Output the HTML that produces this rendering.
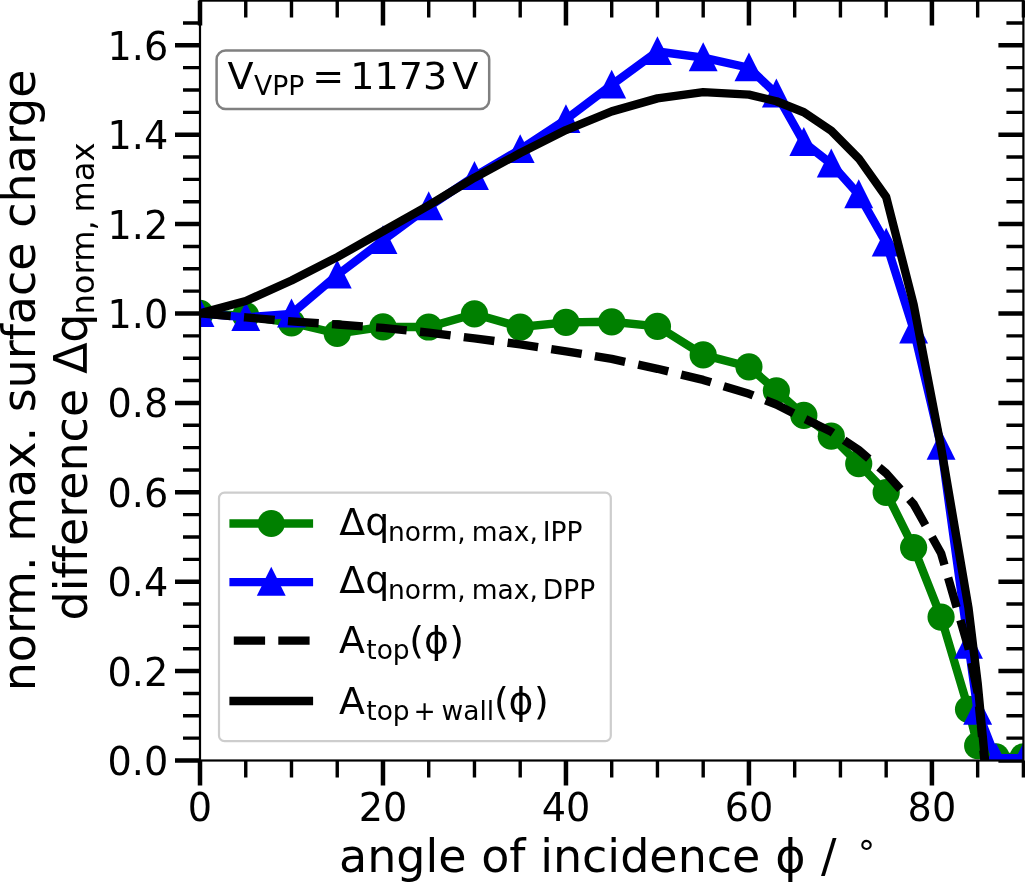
<!DOCTYPE html>
<html><head><meta charset="utf-8"><title>chart</title>
<style>html,body{margin:0;padding:0;background:#fff}svg{display:block}text{font-family:"DejaVu Sans","Liberation Sans",sans-serif;fill:#000;font-variant-ligatures:none}</style></head><body>
<svg width="1025" height="882" viewBox="0 0 1025 882">
<rect width="1025" height="882" fill="#fff"/>
<defs><clipPath id="ax"><rect x="200.00" y="0.60" width="823.41" height="759.90"/></clipPath></defs>
<g stroke="#000" fill="none"><path d="M200.00 760.50v25.00M200.00 0.60v25.00" stroke-width="4.50"/><path d="M245.75 760.50v17.00M245.75 0.60v17.00" stroke-width="3.40"/><path d="M291.49 760.50v17.00M291.49 0.60v17.00" stroke-width="3.40"/><path d="M337.24 760.50v17.00M337.24 0.60v17.00" stroke-width="3.40"/><path d="M382.98 760.50v25.00M382.98 0.60v25.00" stroke-width="4.50"/><path d="M428.72 760.50v17.00M428.72 0.60v17.00" stroke-width="3.40"/><path d="M474.47 760.50v17.00M474.47 0.60v17.00" stroke-width="3.40"/><path d="M520.21 760.50v17.00M520.21 0.60v17.00" stroke-width="3.40"/><path d="M565.96 760.50v25.00M565.96 0.60v25.00" stroke-width="4.50"/><path d="M611.70 760.50v17.00M611.70 0.60v17.00" stroke-width="3.40"/><path d="M657.45 760.50v17.00M657.45 0.60v17.00" stroke-width="3.40"/><path d="M703.19 760.50v17.00M703.19 0.60v17.00" stroke-width="3.40"/><path d="M748.94 760.50v25.00M748.94 0.60v25.00" stroke-width="4.50"/><path d="M794.68 760.50v17.00M794.68 0.60v17.00" stroke-width="3.40"/><path d="M840.43 760.50v17.00M840.43 0.60v17.00" stroke-width="3.40"/><path d="M886.17 760.50v17.00M886.17 0.60v17.00" stroke-width="3.40"/><path d="M931.92 760.50v25.00M931.92 0.60v25.00" stroke-width="4.50"/><path d="M977.66 760.50v17.00M977.66 0.60v17.00" stroke-width="3.40"/><path d="M1023.41 760.50v17.00M1023.41 0.60v17.00" stroke-width="3.40"/><path d="M200.00 760.50h-25.00M1023.41 760.50h-25.00" stroke-width="4.50"/><path d="M200.00 738.15h-17.00M1023.41 738.15h-17.00" stroke-width="3.40"/><path d="M200.00 715.80h-17.00M1023.41 715.80h-17.00" stroke-width="3.40"/><path d="M200.00 693.45h-17.00M1023.41 693.45h-17.00" stroke-width="3.40"/><path d="M200.00 671.10h-25.00M1023.41 671.10h-25.00" stroke-width="4.50"/><path d="M200.00 648.75h-17.00M1023.41 648.75h-17.00" stroke-width="3.40"/><path d="M200.00 626.40h-17.00M1023.41 626.40h-17.00" stroke-width="3.40"/><path d="M200.00 604.05h-17.00M1023.41 604.05h-17.00" stroke-width="3.40"/><path d="M200.00 581.70h-25.00M1023.41 581.70h-25.00" stroke-width="4.50"/><path d="M200.00 559.35h-17.00M1023.41 559.35h-17.00" stroke-width="3.40"/><path d="M200.00 537.00h-17.00M1023.41 537.00h-17.00" stroke-width="3.40"/><path d="M200.00 514.65h-17.00M1023.41 514.65h-17.00" stroke-width="3.40"/><path d="M200.00 492.30h-25.00M1023.41 492.30h-25.00" stroke-width="4.50"/><path d="M200.00 469.95h-17.00M1023.41 469.95h-17.00" stroke-width="3.40"/><path d="M200.00 447.60h-17.00M1023.41 447.60h-17.00" stroke-width="3.40"/><path d="M200.00 425.25h-17.00M1023.41 425.25h-17.00" stroke-width="3.40"/><path d="M200.00 402.90h-25.00M1023.41 402.90h-25.00" stroke-width="4.50"/><path d="M200.00 380.55h-17.00M1023.41 380.55h-17.00" stroke-width="3.40"/><path d="M200.00 358.20h-17.00M1023.41 358.20h-17.00" stroke-width="3.40"/><path d="M200.00 335.85h-17.00M1023.41 335.85h-17.00" stroke-width="3.40"/><path d="M200.00 313.50h-25.00M1023.41 313.50h-25.00" stroke-width="4.50"/><path d="M200.00 291.15h-17.00M1023.41 291.15h-17.00" stroke-width="3.40"/><path d="M200.00 268.80h-17.00M1023.41 268.80h-17.00" stroke-width="3.40"/><path d="M200.00 246.45h-17.00M1023.41 246.45h-17.00" stroke-width="3.40"/><path d="M200.00 224.10h-25.00M1023.41 224.10h-25.00" stroke-width="4.50"/><path d="M200.00 201.75h-17.00M1023.41 201.75h-17.00" stroke-width="3.40"/><path d="M200.00 179.40h-17.00M1023.41 179.40h-17.00" stroke-width="3.40"/><path d="M200.00 157.05h-17.00M1023.41 157.05h-17.00" stroke-width="3.40"/><path d="M200.00 134.70h-25.00M1023.41 134.70h-25.00" stroke-width="4.50"/><path d="M200.00 112.35h-17.00M1023.41 112.35h-17.00" stroke-width="3.40"/><path d="M200.00 90.00h-17.00M1023.41 90.00h-17.00" stroke-width="3.40"/><path d="M200.00 67.65h-17.00M1023.41 67.65h-17.00" stroke-width="3.40"/><path d="M200.00 45.30h-25.00M1023.41 45.30h-25.00" stroke-width="4.50"/><path d="M200.00 22.95h-17.00M1023.41 22.95h-17.00" stroke-width="3.40"/></g>
<g clip-path="url(#ax)">
<polyline points="200.00,313.40 245.75,315.63 291.49,322.78 337.24,333.50 382.98,326.93 428.72,327.02 474.47,313.94 520.21,327.02 565.96,322.33 611.70,321.80 657.45,326.31 703.19,354.89 748.94,366.81 776.39,390.75 803.83,415.40 831.28,436.21 858.73,463.68 886.17,492.49 913.62,547.55 941.07,617.09 968.52,709.31 977.66,745.71 995.96,756.87 1023.41,756.87" fill="none" stroke="#008000" stroke-width="8.40" stroke-linejoin="round"/>
<g fill="#008000"><circle cx="200.00" cy="313.40" r="13.60"/><circle cx="245.75" cy="315.63" r="13.60"/><circle cx="291.49" cy="322.78" r="13.60"/><circle cx="337.24" cy="333.50" r="13.60"/><circle cx="382.98" cy="326.93" r="13.60"/><circle cx="428.72" cy="327.02" r="13.60"/><circle cx="474.47" cy="313.94" r="13.60"/><circle cx="520.21" cy="327.02" r="13.60"/><circle cx="565.96" cy="322.33" r="13.60"/><circle cx="611.70" cy="321.80" r="13.60"/><circle cx="657.45" cy="326.31" r="13.60"/><circle cx="703.19" cy="354.89" r="13.60"/><circle cx="748.94" cy="366.81" r="13.60"/><circle cx="776.39" cy="390.75" r="13.60"/><circle cx="803.83" cy="415.40" r="13.60"/><circle cx="831.28" cy="436.21" r="13.60"/><circle cx="858.73" cy="463.68" r="13.60"/><circle cx="886.17" cy="492.49" r="13.60"/><circle cx="913.62" cy="547.55" r="13.60"/><circle cx="941.07" cy="617.09" r="13.60"/><circle cx="968.52" cy="709.31" r="13.60"/><circle cx="977.66" cy="745.71" r="13.60"/><circle cx="995.96" cy="756.87" r="13.60"/><circle cx="1023.41" cy="756.87" r="13.60"/></g>
<polyline points="200.00,313.40 245.75,317.42 291.49,313.85 337.24,274.99 382.98,240.43 428.72,206.66 474.47,176.29 520.21,149.50 565.96,119.44 611.70,84.96 657.45,51.47 703.19,57.63 748.94,67.77 776.39,93.90 803.83,142.35 831.28,163.92 858.73,194.60 886.17,243.02 913.62,329.79 941.07,446.13 968.52,645.22 977.66,711.19 995.96,758.21 1023.41,758.21" fill="none" stroke="#0000ff" stroke-width="8.40" stroke-linejoin="round"/>
<g fill="#0000ff"><polygon points="200.00,298.10 185.55,327.00 214.45,327.00"/><polygon points="245.75,302.12 231.30,331.02 260.19,331.02"/><polygon points="291.49,298.55 277.04,327.45 305.94,327.45"/><polygon points="337.24,259.69 322.79,288.59 351.69,288.59"/><polygon points="382.98,225.13 368.53,254.03 397.43,254.03"/><polygon points="428.72,191.36 414.27,220.26 443.17,220.26"/><polygon points="474.47,160.99 460.02,189.89 488.92,189.89"/><polygon points="520.21,134.20 505.76,163.10 534.66,163.10"/><polygon points="565.96,104.14 551.51,133.04 580.41,133.04"/><polygon points="611.70,69.66 597.25,98.56 626.15,98.56"/><polygon points="657.45,36.17 643.00,65.07 671.90,65.07"/><polygon points="703.19,42.33 688.74,71.23 717.64,71.23"/><polygon points="748.94,52.47 734.49,81.37 763.39,81.37"/><polygon points="776.39,78.60 761.94,107.50 790.84,107.50"/><polygon points="803.83,127.05 789.38,155.95 818.28,155.95"/><polygon points="831.28,148.62 816.83,177.52 845.73,177.52"/><polygon points="858.73,179.30 844.28,208.20 873.18,208.20"/><polygon points="886.17,227.72 871.72,256.62 900.62,256.62"/><polygon points="913.62,314.49 899.17,343.39 928.07,343.39"/><polygon points="941.07,430.83 926.62,459.73 955.52,459.73"/><polygon points="968.52,629.92 954.07,658.82 982.97,658.82"/><polygon points="977.66,695.89 963.21,724.79 992.12,724.79"/><polygon points="995.96,742.91 981.51,771.81 1010.41,771.81"/><polygon points="1023.41,742.91 1008.96,771.81 1037.86,771.81"/></g>
<polyline points="200.00,313.40 245.75,317.42 291.49,321.44 337.24,324.48 382.98,327.91 428.72,332.60 474.47,338.41 520.21,344.44 565.96,351.36 611.70,358.95 657.45,368.78 703.19,379.94 748.94,393.79 776.39,404.51 803.83,418.35 831.28,431.75 858.73,450.06 886.17,473.28 913.62,504.10 941.07,553.22 968.52,648.35 977.66,693.01 995.96,876.12" fill="none" stroke="#000" stroke-width="8.40" stroke-linejoin="round" stroke-dasharray="30.8 13.35"/>
<polyline points="200.00,313.40 245.75,301.03 291.49,280.49 337.24,257.13 382.98,231.23 428.72,205.32 474.47,177.72 520.21,153.07 565.96,130.07 611.70,111.40 657.45,98.41 703.19,92.11 748.94,94.57 776.39,101.26 803.83,112.25 831.28,130.74 858.73,158.43 886.17,197.02 913.62,304.47 941.07,447.38 968.52,608.16 977.66,683.18 995.96,875.22" fill="none" stroke="#000" stroke-width="8.40" stroke-linejoin="round"/>
</g>
<rect x="200.00" y="0.60" width="823.41" height="759.90" fill="none" stroke="#000" stroke-width="2.2"/>
<text x="200.00" y="821.4" font-size="38.2" text-anchor="middle">0</text>
<text x="382.98" y="821.4" font-size="38.2" text-anchor="middle">20</text>
<text x="565.96" y="821.4" font-size="38.2" text-anchor="middle">40</text>
<text x="748.94" y="821.4" font-size="38.2" text-anchor="middle">60</text>
<text x="931.92" y="821.4" font-size="38.2" text-anchor="middle">80</text>
<text x="168.2" y="775.00" font-size="38.2" text-anchor="end">0.0</text>
<text x="168.2" y="685.60" font-size="38.2" text-anchor="end">0.2</text>
<text x="168.2" y="596.20" font-size="38.2" text-anchor="end">0.4</text>
<text x="168.2" y="506.80" font-size="38.2" text-anchor="end">0.6</text>
<text x="168.2" y="417.40" font-size="38.2" text-anchor="end">0.8</text>
<text x="168.2" y="328.00" font-size="38.2" text-anchor="end">1.0</text>
<text x="168.2" y="238.60" font-size="38.2" text-anchor="end">1.2</text>
<text x="168.2" y="149.20" font-size="38.2" text-anchor="end">1.4</text>
<text x="168.2" y="59.80" font-size="38.2" text-anchor="end">1.6</text>
<text x="338.94" y="872.00" font-size="46.00">angle of incidence</text>
<text x="775.27" y="872.00" font-size="46.00">ϕ</text>
<text x="820.90" y="872.00" font-size="46.00">/</text>
<text x="858.07" y="864.60" font-size="34.00">°</text>
<text transform="translate(35.00 691.29) rotate(-90)" font-size="46.00">norm. max. surface charge</text>
<text transform="translate(86.50 620.43) rotate(-90)" font-size="46.00">difference</text>
<text transform="translate(86.50 373.87) rotate(-90)" font-size="46.00">Δ</text>
<text transform="translate(86.50 342.73) rotate(-90)" font-size="46.00">q</text>
<text transform="translate(94.30 314.53) rotate(-90)" font-size="32.20">norm,</text>
<text transform="translate(94.30 212.53) rotate(-90)" font-size="32.20">max</text>
<rect x="216.6" y="50.4" width="272.6" height="58.7" rx="9" ry="9" fill="#fff" stroke="#808080" stroke-width="2.5"/>
<text x="227.50" y="89.10" font-size="38.10">V</text>
<text x="253.99" y="95.20" font-size="26.70">VPP</text>
<text x="312.16" y="89.10" font-size="38.10">=</text>
<text x="350.31" y="89.10" font-size="38.10">1173</text>
<text x="452.30" y="89.10" font-size="38.10">V</text>
<rect x="219.0" y="492.6" width="391.8" height="248.6" rx="5.5" ry="5.5" fill="#fff" fill-opacity="0.8" stroke="#cdcdcd" stroke-width="2.2"/>
<path d="M229.40 523.5H313.10" stroke="#008000" stroke-width="8.40"/><circle cx="271.25" cy="523.5" r="13.60" fill="#008000"/>
<path d="M229.40 582.1H313.10" stroke="#0000ff" stroke-width="8.40"/><g fill="#0000ff"><polygon points="271.25,566.80 256.80,595.70 285.70,595.70"/></g>
<path d="M233.80 640.6H309.60" stroke="#000" stroke-width="8.40" stroke-dasharray="31.3 13.2"/>
<path d="M229.40 701H313.10" stroke="#000" stroke-width="8.40"/>
<text x="339.20" y="534.50" font-size="37.80">Δ</text>
<text x="365.22" y="534.50" font-size="37.80">q</text>
<text x="387.99" y="540.70" font-size="26.50">norm,</text>
<text x="471.69" y="540.70" font-size="26.50">max,</text>
<text x="542.80" y="540.70" font-size="26.50">IPP</text>
<text x="339.20" y="592.70" font-size="37.80">Δ</text>
<text x="365.22" y="592.70" font-size="37.80">q</text>
<text x="387.99" y="598.90" font-size="26.50">norm,</text>
<text x="471.69" y="598.90" font-size="26.50">max,</text>
<text x="542.80" y="598.90" font-size="26.50">DPP</text>
<text x="339.10" y="652.60" font-size="37.80">A</text>
<text x="366.28" y="658.80" font-size="26.50">top</text>
<text x="409.35" y="652.60" font-size="37.80">(</text>
<text x="423.92" y="652.60" font-size="37.80">ϕ</text>
<text x="449.28" y="652.60" font-size="37.80">)</text>
<text x="339.10" y="713.70" font-size="37.80">A</text>
<text x="366.28" y="719.90" font-size="26.50">top</text>
<text x="413.59" y="719.90" font-size="26.50">+</text>
<text x="441.49" y="719.90" font-size="26.50">wall</text>
<text x="493.95" y="713.70" font-size="37.80">(</text>
<text x="508.52" y="713.70" font-size="37.80">ϕ</text>
<text x="533.88" y="713.70" font-size="37.80">)</text>
</svg></body></html>
